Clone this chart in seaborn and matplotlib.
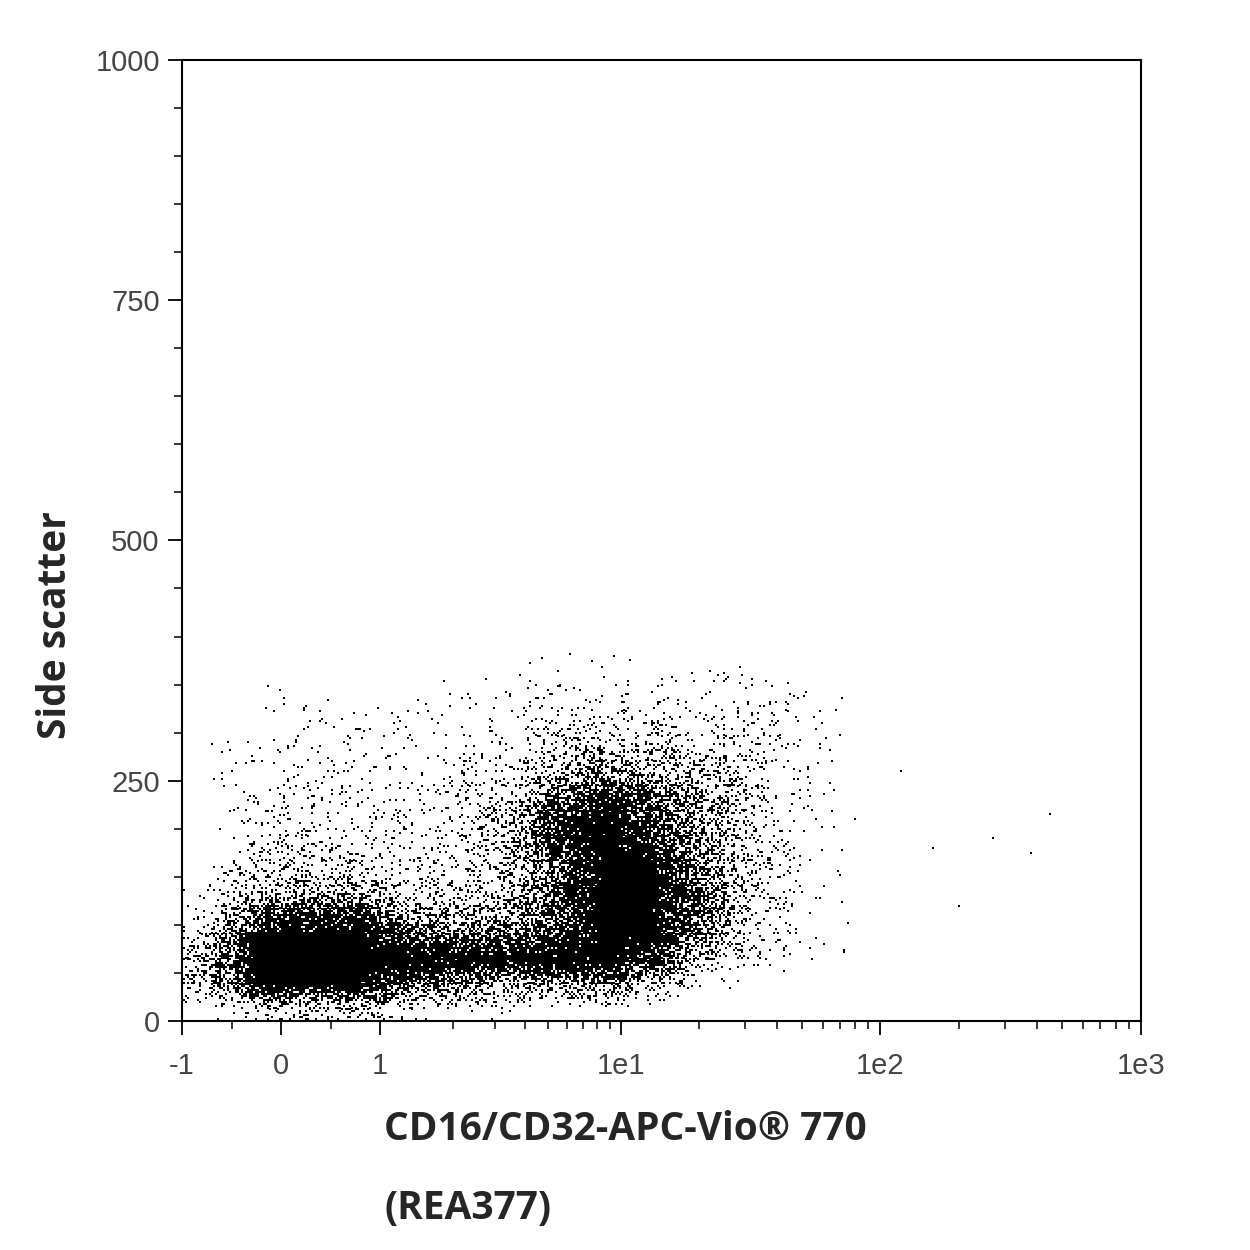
import numpy as np
import pandas as pd
import matplotlib
matplotlib.use("Agg")
import matplotlib.pyplot as plt
import seaborn as sns

log_ticks = [0, 1, 2, 3]
log_pos = [1.0, 3.43, 6.05, 8.68]
def to_t(v):
    v = np.asarray(v, dtype=float)
    return np.where(v <= 1, v, np.interp(np.log10(np.maximum(v, 1)), log_ticks, log_pos))

# density of events (0..9), bins of 0.5 t by 25 SSC, bottom row first
t_edges = np.arange(-1.0, 6.01, 0.5)
ssc_edges = np.arange(0, 401, 25)
density = np.array([
    [0, 2, 3, 3, 2, 1, 1, 0, 0, 0, 0, 0, 0, 0],
    [3, 9, 9, 9, 8, 6, 5, 5, 6, 4, 1, 0, 0, 0],
    [5, 9, 9, 9, 9, 9, 9, 9, 9, 8, 4, 2, 0, 0],
    [3, 9, 9, 9, 8, 7, 7, 8, 9, 9, 6, 3, 1, 0],
    [1, 7, 8, 8, 5, 4, 5, 7, 9, 9, 7, 3, 1, 0],
    [1, 4, 5, 5, 3, 3, 4, 7, 9, 9, 7, 3, 1, 0],
    [0, 3, 3, 3, 2, 3, 4, 7, 9, 9, 6, 3, 1, 0],
    [0, 2, 3, 2, 2, 2, 4, 8, 9, 8, 6, 3, 1, 0],
    [0, 2, 2, 2, 2, 2, 4, 8, 9, 8, 5, 3, 1, 0],
    [0, 1, 2, 2, 1, 2, 3, 6, 8, 7, 5, 3, 1, 0],
    [0, 1, 1, 1, 1, 1, 2, 4, 6, 5, 4, 3, 1, 0],
    [0, 1, 1, 1, 1, 1, 2, 3, 4, 3, 3, 3, 1, 0],
    [0, 0, 1, 1, 1, 1, 1, 2, 2, 2, 2, 2, 1, 0],
    [0, 0, 1, 0, 0, 1, 1, 1, 1, 1, 1, 1, 1, 0],
    [0, 0, 0, 0, 0, 0, 0, 1, 1, 0, 1, 0, 0, 0],
    [0, 0, 0, 0, 0, 0, 0, 0, 0, 0, 0, 0, 0, 0],
])
fill_of_level = np.array([0, 0.03, 0.07, 0.13, 0.22, 0.33, 0.46, 0.62, 0.8, 1.0])

# a few isolated events far to the right: (value, SSC)
outlier_x = [65, 80, 120, 160, 200, 270, 380, 450]
outlier_y = [270, 210, 260, 180, 120, 190, 175, 215]

# render the density as dots on a fine lattice (hashed dither thresholds)
tc = (t_edges[:-1] + t_edges[1:]) / 2
yc = (ssc_edges[:-1] + ssc_edges[1:]) / 2
frac = fill_of_level[density]
lt = np.arange(-1.0, 6.0, 0.0202)
ly = np.arange(0, 400, 2.0)
TT, YY = np.meshgrid(lt, ly)
fi = np.clip(np.interp(TT, tc, np.arange(len(tc))), 0, len(tc) - 1)
fj = np.clip(np.interp(YY, yc, np.arange(len(yc))), 0, len(yc) - 1)
i0 = np.floor(fi).astype(int); i1 = np.minimum(i0 + 1, len(tc) - 1)
j0 = np.floor(fj).astype(int); j1 = np.minimum(j0 + 1, len(yc) - 1)
ai = fi - i0; aj = fj - j0
F = (frac[j0, i0] * (1 - ai) * (1 - aj) + frac[j0, i1] * ai * (1 - aj)
     + frac[j1, i0] * (1 - ai) * aj + frac[j1, i1] * ai * aj)
JJ, II = np.indices(TT.shape)
thr = np.abs(np.sin(II * 12.9898 + JJ * 78.233) * 43758.5453) % 1.0
keep = F > thr
df = pd.DataFrame({"t": np.concatenate([TT[keep], to_t(outlier_x)]),
                   "ssc": np.concatenate([YY[keep], outlier_y])})

sns.set_style("ticks")
plt.rcParams["font.family"] = ["Liberation Sans", "DejaVu Sans"]

fig = plt.figure(figsize=(12.5, 12.5), dpi=100)
ax = fig.add_axes([0.1456, 0.1832, 0.767, 0.769])
sns.scatterplot(data=df, x="t", y="ssc", marker="s", s=4.5, color="black",
                linewidth=0, ax=ax, legend=False)

ax.set_xlim(-1, float(to_t(1000)))
ax.set_ylim(0, 1000)
major_v = [-1, 0, 1, 10, 100, 1000]
ax.set_xticks(to_t(major_v))
ax.set_xticklabels(["-1", "0", "1", "1e1", "1e2", "1e3"])
minor_v = [-0.5, 0.5] + [k * 10 ** d for d in range(0, 3) for k in range(2, 10)]
ax.set_xticks(to_t(minor_v), minor=True)
ax.set_yticks([0, 250, 500, 750, 1000])
ax.set_yticks(np.arange(0, 1001, 50), minor=True)
ax.tick_params(which="major", length=10, width=1.3, labelsize=21, colors="black",
               labelcolor="#444444", direction="out", bottom=True, left=True)
ax.tick_params(which="minor", length=6, width=1.3, direction="out", bottom=True, left=True)
ax.tick_params(axis="x", pad=12)
ax.tick_params(axis="y", pad=6)
for sp in ax.spines.values():
    sp.set_visible(True)
    sp.set_color("black")
    sp.set_linewidth(1.5)

ax.set_xlabel("")
ax.set_ylabel("")
lab = dict(fontsize=28, fontweight="bold", family=["Open Sans", "DejaVu Sans"])
fig.text(0.5, 0.096, "CD16/CD32-APC-Vio® 770", ha="center", va="center", **lab)
fig.text(0.044, 0.5, "Side scatter", rotation=90, ha="center", va="center", **lab)
fig.text(0.374, 0.0336, "(REA377)", ha="center", va="center", **lab)

fig.savefig("out.png", dpi=100)
